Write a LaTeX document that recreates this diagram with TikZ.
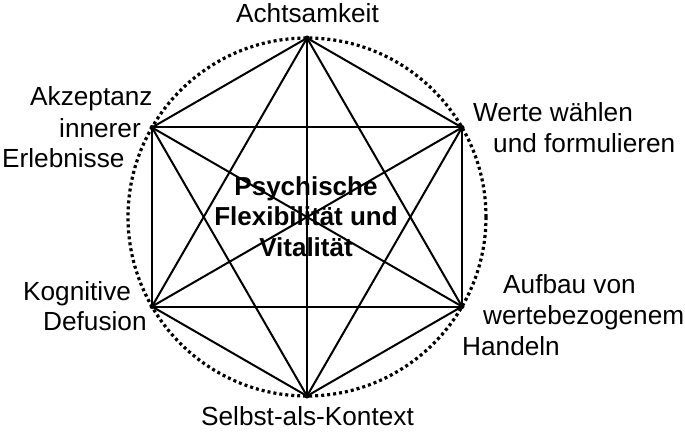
\documentclass[tikz,border=0pt]{standalone}
\usepackage{fontspec}
\setmainfont{Liberation Sans}
\begin{document}
\begin{tikzpicture}[x=1pt,y=-1pt,
  lbl/.style={inner sep=0pt, font=\fontsize{26.2}{30}\selectfont, anchor=base west},
  lblc/.style={lbl, anchor=base},
  ctr/.style={lbl, anchor=base, font=\fontsize{26}{30}\selectfont\bfseries},
  edge/.style={line width=2pt, line join=round},
  rim/.style={line width=3.2pt, dash pattern=on 3pt off 3pt},
  vdot/.style={circle, fill=black, inner sep=0pt, minimum size=5pt}]
\useasboundingbox (0,0) rectangle (685,433);
\coordinate (c) at (307,217);
\node[vdot] (v1) at (307,38) {};
\node[vdot] (v2) at (462,127.5) {};
\node[vdot] (v3) at (462,306.5) {};
\node[vdot] (v4) at (307,396) {};
\node[vdot] (v5) at (152,306.5) {};
\node[vdot] (v6) at (152,127.5) {};
\draw[rim] (c) circle (179);
\foreach \a/\b in {v1/v2,v1/v3,v1/v4,v1/v5,v1/v6,v2/v3,v2/v4,v2/v5,v2/v6,v3/v4,v3/v5,v3/v6,v4/v5,v4/v6,v5/v6}
  \draw[edge] (\a.center) -- (\b.center);
\node[lblc] (t1) at (307.5,23) {Achtsamkeit};
\node[lbl] (t6a) at (30,106) {Akzeptanz};
\node[lbl] (t6b) at (59,137) {innerer};
\node[lbl] (t6c) at (2,167) {Erlebnisse};
\node[lbl] (t5a) at (23,300) {Kognitive};
\node[lbl] (t5b) at (43,330) {Defusion};
\node[lbl] (t2a) at (473,122) {Werte wählen};
\node[lbl] (t2b) at (493,152) {und formulieren};
\node[lbl] (t3a) at (503,293) {Aufbau von};
\node[lbl] (t3b) at (483,324) {wertebezogenem};
\node[lbl] (t3c) at (462,355) {Handeln};
\node[lblc] (t4) at (307.5,425) {Selbst-als-Kontext};
\node[ctr] (m1) at (306,195) {Psychische};
\node[ctr] (m2) at (306,225) {Flexibilität und};
\node[ctr] (m3) at (306,256) {Vitalität};
\end{tikzpicture}
\end{document}
